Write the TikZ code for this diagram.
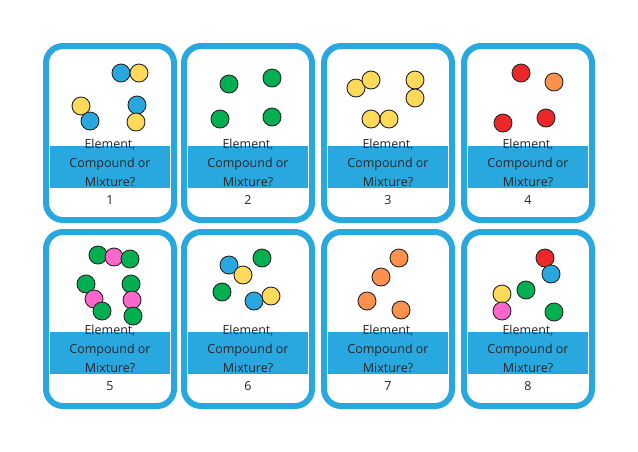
\documentclass[tikz,border=0pt]{standalone}
\usepackage{fontspec}
\setmainfont{Open Sans}
\begin{document}
\begin{tikzpicture}[x=1pt,y=-1pt,
  card/.style={draw=cblue,line width=6pt,rounded corners=17pt,fill=white},
  band/.style={fill=cblue},
  q/.style={font=\fontsize{12.5}{19}\selectfont,align=center,text=black!85},
  num/.style={font=\fontsize{12.5}{15}\selectfont,text=black!85},
  atom/.style={draw=black!85,line width=0.9pt,circle,minimum size=18pt,inner sep=0pt}]
\definecolor{cblue}{RGB}{41,168,224}
\definecolor{cy}{RGB}{255,217,90}
\definecolor{cg}{RGB}{0,176,80}
\definecolor{cp}{RGB}{255,102,204}
\definecolor{cr}{RGB}{238,40,40}
\definecolor{co}{RGB}{255,145,77}
\useasboundingbox (0,0) rectangle (638,451);
\foreach \cx/\top/\n [count=\i] in {110/43/1,248/43/2,388/43/3,528/43/4,110/229/5,248/229/6,388/229/7,528/229/8}{
  \draw[card] (\cx-64,\top+3) rectangle (\cx+64,\top+177);
  \fill[band] (\cx-60,\top+103) rectangle (\cx+60,\top+145);
  \node[q] (q\i) at (\cx,\top+120) {Element,\\Compound or\\Mixture?};
  \node[num] (n\i) at (\cx,\top+157) {\n};
}
\foreach \x/\y/\c [count=\k] in {
 121/73/cblue,139/73/cy,81/106/cy,90/121/cblue,137/105/cblue,136/122/cy,
 229/84/cg,272/78/cg,220/119/cg,272/117/cg,
 356/88/cy,371/80/cy,415/80/cy,415/98/cy,371/119/cy,389/119/cy,
 521/73/cr,554/82/co,503/123/cr,546/118/cr,
 98/255/cg,114/257/cp,130/259/cg,86/284/cg,94/299/cp,102/311/cg,131/284/cg,132/300/cp,133/316/cg,
 229/265/cblue,243/275/cy,262/258/cg,222/292/cg,254/301/cblue,271/296/cy,
 399/258/co,381/277/co,367/301/co,401/310/co,
 545/258/cr,551/274/cblue,526/290/cg,502/294/cy,502/311/cp,554/312/cg}{
  \node[atom,fill=\c] (a\k) at (\x,\y) {};
}
\end{tikzpicture}
\end{document}
